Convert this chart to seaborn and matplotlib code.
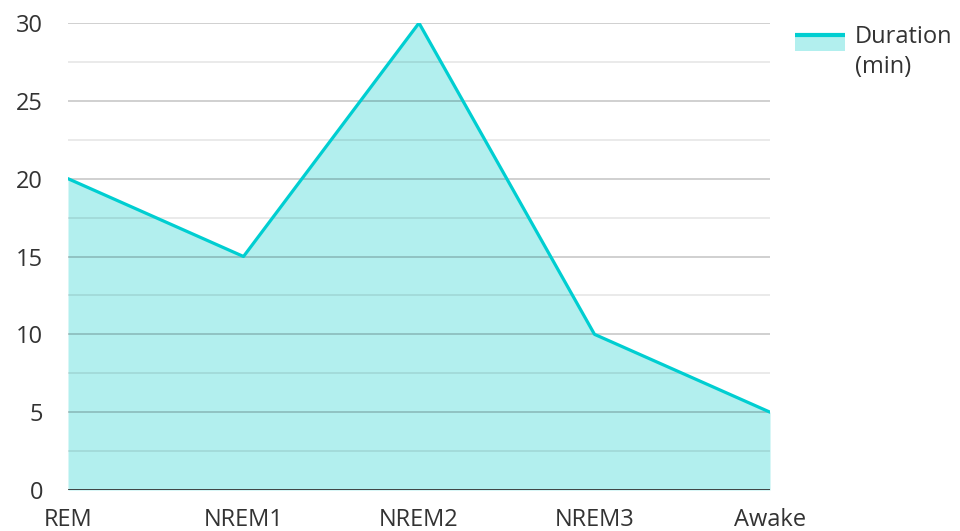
import matplotlib
matplotlib.use("Agg")
import matplotlib.pyplot as plt
import seaborn as sns
import pandas as pd
from matplotlib.patches import Rectangle
from matplotlib.lines import Line2D
from matplotlib.legend_handler import HandlerBase

stages = ["REM", "NREM1", "NREM2", "NREM3", "Awake"]
duration = [20, 15, 30, 10, 5]
y_ticks = [0, 5, 10, 15, 20, 25, 30]

LINE = "#00CED1"
FILL = "#B2EFEE"
TEXT = "#333333"
FONT_SIZE = 17

sns.set_theme(style="white")
plt.rcParams["font.family"] = ["Open Sans", "DejaVu Sans"]


class AreaHandler(HandlerBase):
    """Legend key: filled swatch with the series line along its top edge,
    lifted to sit beside the first line of the label."""

    lift = 7  # points

    def create_artists(self, legend, orig_handle, xdescent, ydescent,
                       width, height, fontsize, trans):
        y0 = -ydescent + self.lift
        rect = Rectangle((-xdescent, y0), width, height,
                         facecolor=FILL, edgecolor="none", transform=trans)
        line = Line2D([-xdescent, -xdescent + width], [y0 + height, y0 + height],
                      color=LINE, linewidth=3, transform=trans, solid_capstyle="butt")
        return [rect, line]


df = pd.DataFrame({"stage": stages, "duration": duration})
df["pos"] = range(len(stages))

fig = plt.figure(figsize=(9.6, 5.31), dpi=100)
ax = fig.add_axes([68 / 960, 41 / 531, 702 / 960, 467 / 531])

ax.fill_between(df["pos"], df["duration"], 0, color=FILL, linewidth=0, zorder=1)
sns.lineplot(data=df, x="pos", y="duration", color=LINE, linewidth=2.3, ax=ax,
             zorder=3)

# horizontal guides: major every 5, minor halfway between
for v in y_ticks[1:]:
    ax.axhline(v, color="black", alpha=0.2, linewidth=1.3, zorder=2)
for v in [2.5, 7.5, 12.5, 17.5, 22.5, 27.5]:
    ax.axhline(v, color="black", alpha=0.09, linewidth=1.3, zorder=2)
ax.axhline(0, color=TEXT, linewidth=2, zorder=4)

ax.set_xlim(0, len(stages) - 1)
ax.set_ylim(0, 30)
ax.set_xticks(df["pos"])
ax.set_xticklabels(stages)
ax.set_yticks(y_ticks)
ax.set_xlabel("")
ax.set_ylabel("")
ax.tick_params(axis="both", length=0, labelsize=FONT_SIZE, labelcolor=TEXT)
ax.tick_params(axis="y", pad=18)
ax.tick_params(axis="x", pad=13)
for s in ax.spines.values():
    s.set_visible(False)

leg = fig.legend([object()], ["Duration\n(min)"], handler_map={object: AreaHandler()},
                 loc="upper left", bbox_to_anchor=(795 / 960, 1 - 25 / 531), frameon=False,
                 borderpad=0, borderaxespad=0,
                 fontsize=FONT_SIZE, handlelength=2.12, handleheight=0.65, handletextpad=0.42,
                 labelcolor=TEXT)
for t in leg.get_texts():
    t.set_linespacing(1.32)

fig.savefig("out.png", dpi=100)
